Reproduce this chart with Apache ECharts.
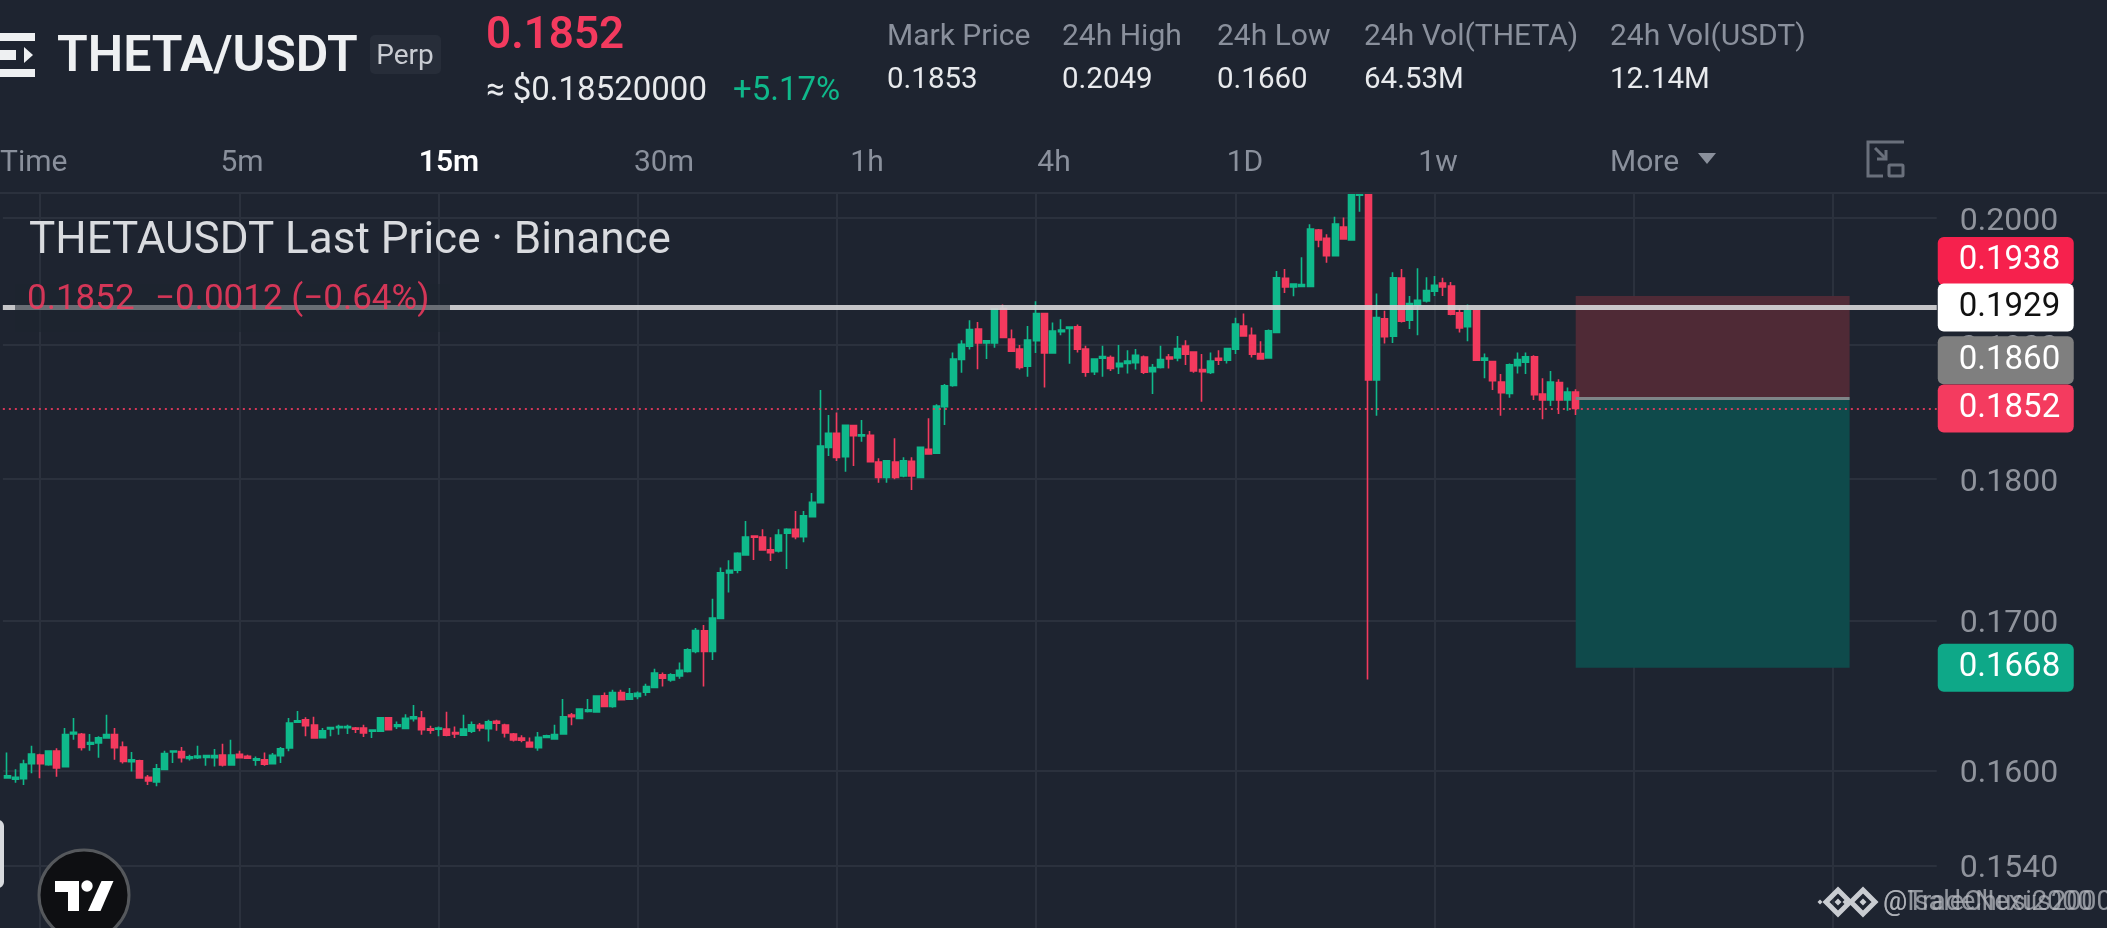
<!DOCTYPE html>
<html><head><meta charset="utf-8">
<style>html,body{margin:0;padding:0;background:#1e2430;overflow:hidden}#c{width:2107px;height:928px}</style>
<script src="https://cdn.jsdelivr.net/npm/echarts@6/dist/echarts.min.js"></script>
</head><body><div id="c"></div>
<script>
const opens=[.15954,.15945,.15949,.16045,.16102,.16039,.16128,.16026,.16239,.16237,
.16172,.16180,.16213,.16235,.16154,.16058,.16065,.15958,.15928,.16008,
.16122,.16124,.16080,.16084,.16087,.16084,.16102,.16037,.16106,.16093,
.16069,.16071,.16045,.16098,.16148,.16316,.16333,.16298,.16215,.16272,
.16281,.16281,.16279,.16279,.16257,.16257,.16346,.16289,.16276,.16340,
.16344,.16274,.16270,.16272,.16248,.16231,.16257,.16296,.16274,.16322,
.16298,.16239,.16213,.16185,.16150,.16217,.16207,.16239,.16364,.16342,
.16388,.16385,.16492,.16421,.16514,.16469,.16487,.16516,.16547,.16632,
.16598,.16625,.16654,.16789,.16930,.16789,.17015,.17330,.17349,.17457,
.17591,.17584,.17492,.17485,.17610,.17639,.17586,.17729,.17828,.18231,
.18335,.18162,.18392,.18315,.18320,.18124,.18012,.18124,.18022,.18129,
.18012,.18217,.18188,.18534,.18693,.18890,.18992,.19123,.19017,.19017,
.19283,.19046,.18969,.18839,.19033,.19244,.18940,.19102,.19128,.19141,
.18969,.18796,.18900,.18905,.18834,.18860,.18866,.18908,.18796,.18829,
.18908,.18902,.18992,.18946,.18814,.18792,.18898,.18885,.18969,.19146,
.19076,.18936,.18902,.19097,.19519,.19451,.19456,.19456,.19903,.19837,
.19698,.19927,.19823,.20186,.20400,.18734,.19202,.19069,.19521,.19192,
.19309,.19342,.19417,.19482,.19459,.19249,.19141,.19265,.18885,.18875,
.18719,.18633,.18842,.18870,.18910,.18628,.18583,.18714,.18583,.18643];
const closes=[.15967,.15958,.16043,.16108,.16045,.16128,.16019,.16235,.16250,.16152,
.16183,.16215,.16235,.16150,.16060,.16071,.15954,.15934,.16013,.16111,
.16128,.16084,.16091,.16095,.16098,.16098,.16037,.16102,.16084,.16082,
.16078,.16043,.16100,.16143,.16311,.16326,.16294,.16213,.16261,.16281,
.16289,.16289,.16270,.16246,.16265,.16346,.16268,.16300,.16342,.16353,
.16268,.16265,.16279,.16231,.16239,.16272,.16300,.16279,.16320,.16311,
.16246,.16200,.16198,.16154,.16217,.16228,.16235,.16353,.16353,.16403,
.16398,.16490,.16421,.16514,.16465,.16505,.16509,.16554,.16643,.16609,
.16632,.16663,.16800,.16932,.16789,.17017,.17332,.17349,.17468,.17584,
.17582,.17492,.17473,.17598,.17639,.17586,.17734,.17831,.18241,.18335,
.18158,.18394,.18317,.18325,.18127,.18012,.18132,.18012,.18132,.18022,
.18231,.18183,.18538,.18690,.18893,.19005,.19120,.19017,.19033,.19278,
.19059,.18953,.18829,.19038,.19244,.18940,.19107,.19115,.19138,.18969,
.18794,.18893,.18913,.18821,.18860,.18877,.18921,.18794,.18829,.18890,
.18893,.18974,.18931,.18803,.18796,.18877,.18885,.18974,.19161,.19071,
.18931,.18893,.19110,.19523,.19451,.19474,.19470,.19911,.19823,.19698,
.19952,.19831,.20280,.20350,.18734,.19213,.19064,.19523,.19184,.19321,
.19347,.19423,.19464,.19451,.19239,.19131,.19265,.18885,.18900,.18729,
.18638,.18850,.18890,.18910,.18623,.18583,.18719,.18583,.18643,.18520];
const lows=[.15952,.15923,.15908,.15984,.15952,.16032,.15962,.16024,.16202,.16132,
.16130,.16084,.16211,.16071,.16047,.15995,.15952,.15908,.15901,.16006,
.16050,.16054,.16067,.16076,.16032,.16028,.16028,.16032,.16082,.16076,
.16032,.16032,.16041,.16050,.16126,.16311,.16224,.16211,.16213,.16224,
.16235,.16239,.16246,.16220,.16213,.16252,.16265,.16272,.16272,.16322,
.16235,.16241,.16224,.16224,.16213,.16228,.16246,.16257,.16191,.16261,
.16217,.16191,.16185,.16152,.16130,.16213,.16202,.16235,.16296,.16340,
.16381,.16381,.16419,.16412,.16463,.16465,.16469,.16492,.16543,.16554,
.16585,.16605,.16647,.16778,.16554,.16732,.17010,.17194,.17328,.17455,
.17421,.17490,.17414,.17473,.17358,.17567,.17546,.17727,.17824,.18168,
.18132,.18052,.18094,.18272,.18125,.17973,.17973,.17998,.18012,.17920,
.18010,.18181,.18186,.18397,.18683,.18789,.18966,.18816,.18893,.18979,
.19057,.18951,.18814,.18759,.18940,.18678,.18938,.19076,.18857,.18943,
.18759,.18771,.18759,.18803,.18779,.18784,.18814,.18779,.18628,.18821,
.18821,.18877,.18847,.18789,.18570,.18779,.18847,.18860,.18931,.19069,
.18905,.18891,.18900,.19095,.19404,.19378,.19454,.19451,.19765,.19643,
.19696,.19829,.19821,.20051,.16600,.18465,.19012,.19015,.19174,.19123,
.19076,.19329,.19380,.19380,.19231,.19097,.19030,.18880,.18747,.18658,
.18465,.18600,.18784,.18779,.18583,.18439,.18538,.18478,.18503,.18471];
const highs=[.16119,.16010,.16071,.16163,.16111,.16130,.16146,.16279,.16344,.16246,
.16239,.16224,.16366,.16279,.16191,.16122,.16071,.15973,.16043,.16130,
.16130,.16154,.16104,.16163,.16104,.16141,.16176,.16202,.16130,.16104,
.16093,.16119,.16115,.16154,.16344,.16390,.16350,.16353,.16279,.16285,
.16300,.16300,.16285,.16300,.16267,.16348,.16350,.16322,.16370,.16431,
.16390,.16294,.16289,.16385,.16289,.16366,.16322,.16311,.16333,.16333,
.16307,.16246,.16231,.16217,.16252,.16235,.16300,.16470,.16377,.16405,
.16470,.16496,.16514,.16532,.16532,.16543,.16520,.16572,.16672,.16647,
.16643,.16714,.16812,.16950,.16969,.17150,.17369,.17419,.17475,.17698,
.17593,.17639,.17582,.17639,.17646,.17769,.17769,.17899,.18658,.18471,
.18490,.18398,.18396,.18434,.18353,.18151,.18139,.18298,.18158,.18158,
.18235,.18447,.18551,.18704,.18943,.19038,.19192,.19177,.19038,.19282,
.19314,.19120,.19000,.19146,.19339,.19248,.19174,.19200,.19142,.19159,
.18995,.18897,.18995,.18921,.19000,.18961,.18969,.18921,.18855,.18995,
.18931,.19069,.19038,.18950,.18931,.18943,.18961,.18979,.19210,.19244,
.19136,.19030,.19120,.19577,.19593,.19478,.19685,.19949,.19911,.19869,
.20011,.20005,.20300,.20400,.20490,.19399,.19265,.19566,.19593,.19380,
.19598,.19527,.19537,.19523,.19490,.19283,.19314,.19270,.18936,.18878,
.18779,.18860,.18943,.18943,.18923,.18747,.18802,.18739,.18678,.18665];
const priceTicks=[0.2,0.19,0.18,0.17,0.16,0.154];
const stopPrice=0.1938, levelPrice=0.1929, entryPrice=0.1860, lastPrice=0.1852, targetPrice=0.1668;
const futureSlots=43, positionStart=189, positionEnd=222;
const intervals=['Time','5m','15m','30m','1h','4h','1D','1w','More'];
const statLabels=['Mark Price','24h High','24h Low','24h Vol(THETA)','24h Vol(USDT)'];
const statValues=['0.1853','0.2049','0.1660','64.53M','12.14M'];

const categories=Array.from({length:opens.length+futureSlots},(_,i)=>String(i));
const candleData=opens.map((o,i)=>[o,closes[i],lows[i],highs[i]]);
const BG='#1e2430',GREEN='#0fb98b',RED='#f33a5e',GRID='#2b313d',GREY='#8a909c',WHITE='#e8eaed',FF='Roboto,sans-serif';

function T(text,x,y,size,fill,weight,extra){return {type:'text',z:200,style:{text:text,x:x,y:y,fill:fill,font:(weight||400)+' '+size+'px '+FF,textVerticalAlign:'middle',textAlign:(extra&&extra.align)||'left',opacity:(extra&&extra.opacity)||1}};}
function R(x,y,w,h,fill,r,z){return {type:'rect',z:z||200,shape:{x:x,y:y,width:w,height:h,r:r||0},style:{fill:fill}};}
function P(points,fill,z){return {type:'polygon',z:z||210,shape:{points:points},style:{fill:fill}};}
function L(points,stroke,w,z){return {type:'polyline',z:z||200,shape:{points:points},style:{stroke:stroke,lineWidth:w,fill:'none'}};}
function bnb(cx,cy){const r=12,c='#c9ccd1';return [
 {type:'polygon',z:210,shape:{points:[[cx,cy-r],[cx+r,cy],[cx,cy+r],[cx-r,cy]]},style:{fill:'none',stroke:c,lineWidth:5}},
 P([[cx,cy-3.5],[cx+3.5,cy],[cx,cy+3.5],[cx-3.5,cy]],c),
 P([[cx-18,cy-2.5],[cx-15.5,cy],[cx-18,cy+2.5],[cx-20.5,cy]],c)];}

const intervalX=[0,242,449,664,867,1054,1245,1438,1610];
const statX=[887,1062,1217,1364,1610];
const graphic=[
 R(0,0,2107,192,BG,0,150),
 R(0,192,2107,2,GRID,0,151),
 R(15,284,435,48,'rgba(30,36,48,0.55)',0,50),
 R(0,33,35,8,'#eef0f2'),R(0,50,16,10,'#eef0f2'),P([[24,47],[33,55],[24,63]],'#eef0f2'),R(0,69,35,8,'#eef0f2'),
 T('THETA/USDT',57,58,50,'#eef0f2',600),
 R(370,35,71,39,'#272d39',5),
 T('Perp',405,57,28,'#c9ccd2',400,{align:'center'}),
 T('0.1852',486,37,44,RED,600),
 T('≈ $0.18520000',486,92,33,WHITE,400),
 T('+5.17%',733,92,33,GREEN,400),
 ...statLabels.map((s,i)=>T(s,statX[i],37,30,GREY,400)),
 ...statValues.map((s,i)=>T(s,statX[i],81,29.5,WHITE,400)),
 ...intervals.map((s,i)=>T(s,intervalX[i],163,30,s==='15m'?'#ffffff':GREY,s==='15m'?600:400,{align:(i===0||i===8)?'left':'center'})),
 P([[1698,153],[1716,153],[1707,164]],GREY),
 L([[1904,142],[1868,142],[1868,176],[1883,176]],'#6a707c',3),
 {type:'rect',z:200,shape:{x:1889,y:165,width:14,height:11,r:1},style:{fill:'none',stroke:'#6a707c',lineWidth:3}},
 L([[1875,148],[1886,159]],'#6a707c',3),L([[1886,150],[1886,159],[1877,159]],'#6a707c',3),
 T('THETAUSDT Last Price · Binance',29,242,44,'#d9dbdf',400),
 T('0.1852',27,300,35,RED,400,{opacity:.85}),
 T('−0.0012 (−0.64%)',155,300,35,RED,400,{opacity:.85}),
 R(-8,820,12,68,'#d8dade',6),
 {type:'circle',z:205,shape:{cx:84,cy:895,r:45},style:{fill:'#0e0f12',stroke:'#55585c',lineWidth:3}},
 P([[55,881],[79,881],[79,911],[68,911],[68,892],[55,892]],'#ffffff'),
 {type:'circle',z:210,shape:{cx:87,cy:886,r:5.7},style:{fill:'#ffffff'}},
 P([[101.5,881],[113.5,881],[100.5,911],[88,911]],'#ffffff'),
 ...bnb(1838,902),...bnb(1863,902),
 T('@TradeNexus2000',1883,903,27,'#b7bac0',400,{opacity:.75}),
 T('@IsaleChusi2000',1883,903,27,'#b7bac0',400,{opacity:.75})
];

function tag(val,bg,fg,dy){return {yAxis:val,symbol:'none',lineStyle:{color:'rgba(0,0,0,0)',width:0,type:'solid'},label:{show:true,position:'end',distance:1,formatter:val.toFixed(4),
  offset:[0,dy||0],opacity:1,backgroundColor:bg,color:fg,fontFamily:FF,fontSize:33,width:115,height:48,lineHeight:54,padding:[0,0,0,21],align:'left',verticalAlign:'middle',borderRadius:6}};}

const option={
 backgroundColor:BG,animation:false,
 graphic:graphic,
 grid:{left:2.85,top:193,width:1933.9,height:735,containLabel:false},
 xAxis:{type:'category',data:categories,boundaryGap:true,axisLine:{show:false},axisLabel:{show:false},axisTick:{show:false},
  splitLine:{show:true,alignWithLabel:true,interval:(i)=>i%24===4,lineStyle:{color:GRID,width:2}}},
 yAxis:{type:'log',logBase:10,position:'right',min:0.15016,max:0.20203,scale:true,
  axisLine:{show:false},axisTick:{show:false,customValues:priceTicks},
  axisLabel:{show:true,customValues:priceTicks,margin:23,color:'#8f939c',fontFamily:FF,fontSize:32,verticalAlign:'top',lineHeight:7,formatter:v=>Number(v).toFixed(4)},
  splitLine:{show:true,lineStyle:{color:GRID,width:2}}},
 series:[{type:'candlestick',data:candleData,barWidth:6.5,clip:true,
  itemStyle:{color:GREEN,color0:RED,borderColor:GREEN,borderColor0:RED,borderColorDoji:GREEN,borderWidth:1.6},
  markArea:{silent:true,z:1,data:[
   [{coord:[positionStart,stopPrice],itemStyle:{color:'#4f2a36'}},{coord:[positionEnd,entryPrice]}],
   [{coord:[positionStart,entryPrice],itemStyle:{color:'#0f4a4b'}},{coord:[positionEnd,targetPrice]}]]},
  markLine:{silent:true,symbol:'none',animation:false,precision:5,z:6,data:[
   {yAxis:lastPrice,symbol:'none',lineStyle:{color:RED,type:[2,4],width:2,opacity:.85},label:{show:false}},
   [{coord:[positionStart,entryPrice],lineStyle:{color:'#7f8588',width:3,type:'solid'},label:{show:false},symbol:'none'},{coord:[positionEnd,entryPrice],symbol:'none'}],
   {yAxis:levelPrice,symbol:'none',lineStyle:{color:'#d4d4d6',width:5,type:'solid',opacity:.92},label:{show:false}},
   tag(stopPrice,'#f6214d','#ffffff',-35),
   tag(levelPrice,'#ffffff','#111111',0),
   tag(entryPrice,'#7f7f7f','#ffffff',-37.5),
   tag(lastPrice,'#f43b5f','#ffffff',0),
   tag(targetPrice,'#0ea888','#ffffff',0)
  ]}
 }]
};
const chart=echarts.init(document.getElementById('c'),null,{renderer:'canvas',width:2107,height:928});
chart.setOption(option);
</script></body></html>
